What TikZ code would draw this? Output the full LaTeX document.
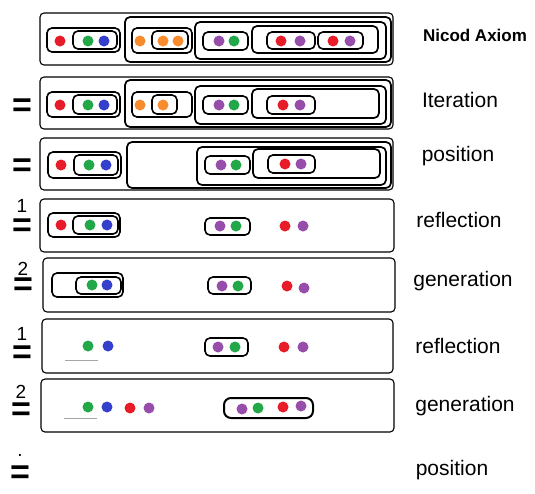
\documentclass[tikz,border=0pt]{standalone}
\usepackage{fontspec}
\setmainfont{Liberation Sans}
\definecolor{cr}{RGB}{232,28,40}
\definecolor{cg}{RGB}{34,168,72}
\definecolor{cb}{RGB}{52,64,204}
\definecolor{co}{RGB}{248,140,44}
\definecolor{cp}{RGB}{150,78,170}
\newcommand\dt[3]{\fill[#1] (#2,#3) circle (5.5pt);}
\newcommand\eqover[2]{\ooalign{\hfil\raisebox{#2pt}{\mdseries\fontsize{19}{19}\selectfont #1}\hfil\cr =\cr}}
\begin{document}
\begin{tikzpicture}[x=1pt,y=-1pt,
  outerbox/.style={draw, line width=1.1pt, rounded corners=4pt},
  bigbox/.style={draw, line width=1.7pt, rounded corners=5pt},
  inbox/.style={draw, line width=1.6pt, rounded corners=5pt},
  faint/.style={draw=black!35, line width=0.8pt},
  lbl/.style={font=\fontsize{21}{24}\selectfont, anchor=center},
  eq/.style={font=\bfseries\fontsize{34}{34}\selectfont, inner sep=0pt, anchor=base}]
\useasboundingbox (0,0) rectangle (535,493);
% ---------- row 1
\draw[outerbox] (40,13) rectangle (393,65);
\draw[inbox] (47,28) rectangle (120,52);
\draw[inbox] (73,31) rectangle (117,49);
\dt{cr}{60}{41}\dt{cg}{88}{41}\dt{cb}{104}{41}
\draw[bigbox] (125,17) rectangle (391,62);
\draw[inbox] (132,28) rectangle (192,53);
\draw[inbox] (152,31) rectangle (188,49);
\dt{co}{140}{41}\dt{co}{163}{41}\dt{co}{178}{41}
\draw[bigbox] (195,22) rectangle (386,59);
\draw[inbox] (203,32) rectangle (248,50);
\dt{cp}{219}{41}\dt{cg}{234}{41}
\draw[bigbox] (252,26) rectangle (378,53);
\draw[inbox] (267,32) rectangle (315,49);
\dt{cr}{281}{41}\dt{cp}{300}{41}
\draw[inbox] (318,32) rectangle (363,49);
\dt{cr}{333}{41}\dt{cp}{350}{41}
\node[lbl, font=\bfseries\fontsize{17}{20}\selectfont] (t1) at (475,35) {Nicod Axiom};
% ---------- row 2
\draw[outerbox] (40,77) rectangle (393,129);
\draw[inbox] (47,92) rectangle (120,117);
\draw[inbox] (73,95) rectangle (117,114);
\dt{cr}{60}{105}\dt{cg}{88}{105}\dt{cb}{104}{105}
\draw[bigbox] (125,80) rectangle (391,127);
\draw[inbox] (132,92) rectangle (192,117);
\draw[inbox] (152,95) rectangle (177,114);
\dt{co}{140}{105}\dt{co}{163}{105}
\draw[bigbox] (195,86) rectangle (386,124);
\draw[inbox] (203,96) rectangle (248,114);
\dt{cp}{219}{105}\dt{cg}{234}{105}
\draw[bigbox] (252,89) rectangle (379,118);
\draw[inbox] (267,96) rectangle (315,114);
\dt{cr}{283}{105}\dt{cp}{300}{105}
\node[lbl] (t2) at (460,100) {Iteration};
\node[eq] (e2) at (22,116) {=};
% ---------- row 3
\draw[outerbox] (40,138) rectangle (393,190);
\draw[inbox] (48,152) rectangle (121,178);
\draw[inbox] (74,155) rectangle (118,175);
\dt{cr}{61}{165}\dt{cg}{89}{165}\dt{cb}{106}{165}
\draw[bigbox] (127,142) rectangle (391,188);
\draw[bigbox] (197,147) rectangle (386,185);
\draw[inbox] (205,156) rectangle (250,174);
\dt{cp}{221}{165}\dt{cg}{236}{165}
\draw[bigbox] (253,149) rectangle (380,178);
\dt{cr}{285}{164}\dt{cp}{301}{164}
\draw[inbox] (268,155) rectangle (315,173);
\node[lbl] (t3) at (458,156) {position};
\node[eq] (e3) at (22,176) {=};
% ---------- row 4
\draw[outerbox] (40,199) rectangle (394,252);
\draw[inbox] (48,213) rectangle (120,237);
\draw[inbox] (73,216) rectangle (118,234);
\dt{cr}{61}{225}\dt{cg}{90}{225}\dt{cb}{107}{225}
\draw[inbox] (205,218) rectangle (250,235);
\dt{cp}{220}{226}\dt{cg}{236}{226}
\dt{cr}{285}{226}\dt{cp}{303}{226}
\node[lbl] (t4) at (459,220) {reflection};
\node[eq] (e4) at (22,236) {\eqover{1}{24}};
% ---------- row 5
\draw[outerbox] (43,258) rectangle (395,312);
\draw[inbox] (52,273) rectangle (123,297);
\draw[inbox] (76,277) rectangle (121,294);
\dt{cg}{92}{285}\dt{cb}{107}{285}
\draw[inbox] (208,277) rectangle (251,294);
\dt{cp}{222}{286}\dt{cg}{238}{286}
\dt{cr}{287}{286}\dt{cp}{304}{288}
\node[lbl] (t5) at (463,281) {generation};
\node[eq] (e5) at (23,295) {\eqover{2}{20}};
% ---------- row 6
\draw[outerbox] (42,319) rectangle (393,373);
\dt{cg}{88}{346}\dt{cb}{108}{346}
\draw[faint] (65,360) -- (98,360);
\draw[inbox] (205,338) rectangle (248,356);
\dt{cp}{218}{347}\dt{cg}{235}{347}
\dt{cr}{284}{347}\dt{cp}{303}{347}
\node[lbl] (t6) at (458,346) {reflection};
\node[eq] (e6) at (22,363) {\eqover{1}{23}};
% ---------- row 7
\draw[outerbox] (41,379) rectangle (394,432);
\dt{cg}{88}{407}\dt{cb}{107}{407}\dt{cr}{130}{408}\dt{cp}{149}{408}
\draw[faint] (64,418) -- (97,418);
\draw[draw, line width=2pt, rounded corners=7pt] (224,398) rectangle (313,418);
\dt{cp}{242}{409}\dt{cg}{258}{408}\dt{cr}{283}{407}\dt{cp}{301}{406}
\node[lbl] (t7) at (465,406) {generation};
\node[eq] (e7) at (21,420) {\eqover{2}{22}};
% ---------- row 8
\node[lbl] (t8) at (452,470) {position};
\node[eq] (e8) at (20,483) {\eqover{.}{27}};
\end{tikzpicture}
\end{document}
